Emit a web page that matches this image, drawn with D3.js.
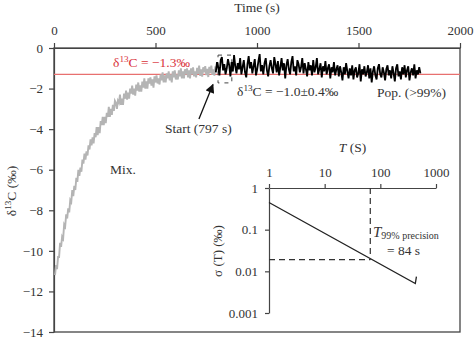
<!DOCTYPE html>
<html>
<head>
<meta charset="utf-8">
<script src="https://cdn.jsdelivr.net/npm/d3@7"></script>
<style>
  body { margin: 0; background: #fff; }
  svg text { font-family: "Liberation Serif", "Times New Roman", serif; fill: #333; }
</style>
</head>
<body>
<div id="chart"></div>
<script>
// main axes
var timeTicks = [0, 500, 1000, 1500, 2000];
var deltaTicks = [0, -2, -4, -6, -8, -10, -12, -14];

// mixing phase (gray trace), one reading every 5 s starting at t = 5 s
var mixStart = 5, mixStep = 5;
var mixValues = [
  -11.2, -10.7, -10.9, -10.3, -10.3, -9.6, -9.8, -9.3, -9.4, -8.7,
  -8.8, -8.2, -8.4, -7.9, -8.1, -7.5, -7.6, -7.0, -7.3, -6.8,
  -7.0, -6.4, -6.6, -6.0, -6.3, -5.9, -6.1, -5.5, -5.7, -5.2,
  -5.5, -5.1, -5.3, -4.8, -5.0, -4.5, -4.8, -4.4, -4.7, -4.2,
  -4.4, -3.9, -4.3, -3.9, -4.2, -3.6, -3.8, -3.4, -3.8, -3.4,
  -3.7, -3.2, -3.4, -2.9, -3.4, -3.0, -3.3, -2.8, -3.1, -2.6,
  -2.7, -3.0, -2.6, -2.7, -2.3, -2.8, -2.5, -2.8, -2.25, -2.5,
  -2.1, -2.55, -2.2, -2.5, -2.0, -2.25, -1.85, -2.3, -2.0, -2.35,
  -1.8, -2.1, -1.7, -2.15, -1.85, -2.15, -1.65, -1.95, -1.5, -2.0,
  -1.65, -2.0, -1.5, -1.75, -1.45, -1.85, -1.55, -1.95, -1.4, -1.7,
  -1.35, -1.75, -1.5, -1.8, -1.3, -1.6, -1.2, -1.7, -1.35, -1.7,
  -1.25, -1.5, -1.15, -1.6, -1.3, -1.7, -1.15, -1.45, -1.1, -1.55,
  -1.3, -1.55, -1.1, -1.4, -1.0, -1.5, -1.15, -1.5, -1.05, -1.3,
  -1.0, -1.45, -1.1, -1.5, -1.0, -1.3, -0.95, -1.4, -1.15, -1.45,
  -0.98, -1.28, -0.87, -1.37, -1.06, -1.41, -0.95, -1.2, -0.89, -1.34,
  -1.03, -1.43, -0.93, -1.22, -0.87, -1.32, -1.06, -1.36, -0.91
];

// population phase (black trace), one reading every 6 s starting at t = 797 s
var popStart = 797, popStep = 6;
var popValues = [
  -1.2, -0.7, -0.95, -1.35, -0.6, -0.45, -1.1, -0.8, -1.3, -1.0,
  -0.55, -0.85, -1.4, -0.7, -1.15, -0.35, -0.9, -1.25, -0.75, -1.05,
  -0.5, -1.3, -0.95, -0.6, -1.2, -1.45, -0.8, -0.4, -1.0, -0.7,
  -1.25, -0.9, -0.55, -1.35, -1.05, -0.65, -0.3, -1.15, -0.85, -1.3,
  -0.75, -0.5, -1.1, -1.4, -0.9, -0.6, -1.0, -1.25, -0.45, -0.8,
  -1.2, -0.65, -1.35, -0.95, -0.5, -1.1, -0.75, -1.5, -0.85, -0.55,
  -1.05, -1.3, -0.7, -0.4, -1.15, -0.9, -1.35, -0.6, -0.8, -1.2,
  -0.95, -0.5, -1.25, -0.75, -1.05, -1.4,
  -0.7, -1.1, -0.85, -1.35, -0.6, -1.2, -0.95, -0.5, -1.3, -1.05,
  -0.75, -1.45, -0.9, -1.15, -0.65, -1.3, -1.0, -0.8, -1.5, -0.95,
  -1.2, -0.7, -1.35, -1.05, -0.85,
  -1.4, -0.9, -1.2, -1.6, -0.95, -1.3, -0.75, -1.15, -1.5, -1.0,
  -1.35, -0.85, -1.55, -1.1, -0.95, -1.45, -1.25, -0.8, -1.65, -1.05,
  -1.3, -0.9, -1.4, -1.2, -0.85, -1.5, -1.0, -1.7, -1.15, -0.9,
  -1.35, -1.55, -1.0, -0.8, -1.3, -1.45, -0.95, -1.2, -1.6, -1.05,
  -0.85, -1.35, -1.1, -1.5, -0.9, -1.25, -1.65, -1.0, -0.8, -1.4,
  -1.15, -1.55, -0.95, -1.3, -0.85, -1.45, -1.1, -0.9, -1.6, -1.2,
  -1.0, -1.35, -0.8, -1.5, -1.1, -1.3, -0.95, -1.25
];

var refLevel = -1.3;
var startTime = 797;

// inset: sigma(T) vs averaging time
var allanT = [1, 425, 445];
var allanSigma = [0.45, 0.0051, 0.0075];
var precisionT = 66, precisionSigma = 0.019;
var insetTTicks = [1, 10, 100, 1000];
var insetSigmaTicks = [1, 0.1, 0.01, 0.001];
var insetSigmaLabels = ["1", "0.1", "0.01", "0.001"];

var width = 474, height = 342;
var svg = d3.select("#chart").append("svg")
  .attr("width", width)
  .attr("height", height);

var x = d3.scaleLinear().domain([0, 2000]).range([54, 460]);
var y = d3.scaleLinear().domain([0, -14]).range([48, 332]);

function styleAxis(g, fs) {
  g.selectAll("path, line").attr("stroke", "#444").attr("stroke-width", 1.2);
  g.selectAll("text").attr("font-size", fs).attr("fill", "#333")
    .style("font-family", '"Liberation Serif", "Times New Roman", serif');
}

// frame
svg.append("rect")
  .attr("x", x(0)).attr("y", y(0))
  .attr("width", x(2000) - x(0)).attr("height", y(-14) - y(0))
  .attr("fill", "none").attr("stroke", "#444").attr("stroke-width", 1.3);

var gx = svg.append("g")
  .attr("transform", "translate(0," + y(0) + ")")
  .call(d3.axisTop(x).tickValues(timeTicks).tickFormat(d3.format("d"))
    .tickSize(5).tickSizeOuter(0).tickPadding(8));
styleAxis(gx, 13);

var gy = svg.append("g")
  .attr("transform", "translate(" + x(0) + ",0)")
  .call(d3.axisLeft(y).tickValues(deltaTicks).tickSize(5).tickSizeOuter(0).tickPadding(6)
    .tickFormat(function(d) { return d === 0 ? "0" : "\u2212" + Math.abs(d); }));
styleAxis(gy, 13);

svg.append("text")
  .attr("x", (x(0) + x(2000)) / 2).attr("y", 12)
  .attr("text-anchor", "middle").attr("font-size", 13.5)
  .text("Time (s)");

// delta label helper: δ + superscript 13 + rest
function deltaText(sel, rest, fs) {
  sel.append("tspan").text("\u03b4");
  sel.append("tspan").attr("font-size", fs * 0.68).attr("dy", -fs * 0.38).text("13");
  sel.append("tspan").attr("dy", fs * 0.38).text(rest);
}

var ylab = svg.append("text")
  .attr("transform", "translate(16,191) rotate(-90)")
  .attr("text-anchor", "middle").attr("font-size", 13.5);
deltaText(ylab, "C (\u2030)", 13.5);

// reference level
svg.append("line")
  .attr("x1", x(0)).attr("x2", x(2000))
  .attr("y1", y(refLevel)).attr("y2", y(refLevel))
  .attr("stroke", "#e8706f").attr("stroke-width", 1.2);

var refLab = svg.append("text")
  .attr("x", 113).attr("y", 67).attr("font-size", 13.5)
  .style("fill", "#d9323a");
deltaText(refLab, "C = \u22121.3\u2030", 13.5);

// dashed bracket around start
svg.append("rect")
  .attr("x", x(808)).attr("y", y(-0.35))
  .attr("width", x(876) - x(808)).attr("height", y(-1.72) - y(-0.35))
  .attr("fill", "none").attr("stroke", "#444").attr("stroke-width", 1)
  .attr("stroke-dasharray", "4,5");

var line = d3.line()
  .x(function(d) { return x(d.t); })
  .y(function(d) { return y(d.v); });

var mixData = mixValues.map(function(v, i) { return {t: mixStart + i * mixStep, v: v}; });
var popData = popValues.map(function(v, i) { return {t: popStart + i * popStep, v: v}; });

svg.append("path")
  .datum(mixData)
  .attr("fill", "none")
  .attr("stroke", "#b4b4b4")
  .attr("stroke-width", 1.9)
  .attr("d", line);

svg.append("path")
  .datum(popData)
  .attr("fill", "none")
  .attr("stroke", "#000")
  .attr("stroke-width", 1.8)
  .attr("d", line);

// arrow to start
svg.append("defs").append("marker")
  .attr("id", "arr").attr("viewBox", "0 0 10 10")
  .attr("refX", 9).attr("refY", 5)
  .attr("markerWidth", 10).attr("markerHeight", 9)
  .attr("markerUnits", "userSpaceOnUse")
  .attr("orient", "auto")
  .append("path").attr("d", "M0,0 L10,5 L0,10 Z").attr("fill", "#111");

svg.append("line")
  .attr("x1", x(714)).attr("y1", y(-3.5))
  .attr("x2", x(783)).attr("y2", y(-1.8))
  .attr("stroke", "#111").attr("stroke-width", 1.3)
  .attr("marker-end", "url(#arr)");

svg.append("text").attr("x", 165).attr("y", 133).attr("font-size", 13.5)
  .text("Start (" + startTime + " s)");

var popLab = svg.append("text").attr("x", 237).attr("y", 96).attr("font-size", 13.5);
deltaText(popLab, "C = \u22121.0\u00b10.4\u2030", 13.5);

svg.append("text").attr("x", 377).attr("y", 97).attr("font-size", 13.5)
  .text("Pop. (>99%)");

svg.append("text").attr("x", 110).attr("y", 174).attr("font-size", 13.5)
  .text("Mix.");

// ---- inset ----
var ix = d3.scaleLog().domain([1, 1000]).range([269, 436]);
var iy = d3.scaleLog().domain([0.001, 1]).range([313, 188]);

var gix = svg.append("g")
  .attr("transform", "translate(0," + iy(1) + ")")
  .call(d3.axisTop(ix).tickValues(insetTTicks).tickFormat(d3.format("d"))
    .tickSize(4).tickSizeOuter(0).tickPadding(7));
styleAxis(gix, 13);

var giy = svg.append("g")
  .attr("transform", "translate(" + ix(1) + ",0)")
  .call(d3.axisLeft(iy).tickValues(insetSigmaTicks)
    .tickFormat(function(d, i) { return insetSigmaLabels[i]; })
    .tickSize(4).tickSizeOuter(0).tickPadding(7));
styleAxis(giy, 13);

var tlab = svg.append("text")
  .attr("x", (ix(1) + ix(1000)) / 2).attr("y", 152)
  .attr("text-anchor", "middle").attr("font-size", 13.5);
tlab.append("tspan").attr("font-style", "italic").text("T");
tlab.append("tspan").text(" (S)");

svg.append("text")
  .attr("transform", "translate(222,251) rotate(-90)")
  .attr("text-anchor", "middle").attr("font-size", 13)
  .text("\u03c3 (T) (\u2030)");

svg.append("path")
  .datum(allanT.map(function(t, i) { return {t: t, s: allanSigma[i]}; }))
  .attr("fill", "none").attr("stroke", "#222").attr("stroke-width", 1.3)
  .attr("d", d3.line().x(function(d) { return ix(d.t); }).y(function(d) { return iy(d.s); }));

svg.append("line")
  .attr("x1", ix(precisionT)).attr("x2", ix(precisionT))
  .attr("y1", iy(1)).attr("y2", iy(precisionSigma))
  .attr("stroke", "#333").attr("stroke-width", 1.2).attr("stroke-dasharray", "6,4");
svg.append("line")
  .attr("x1", ix(1)).attr("x2", ix(precisionT))
  .attr("y1", iy(precisionSigma)).attr("y2", iy(precisionSigma))
  .attr("stroke", "#333").attr("stroke-width", 1.2).attr("stroke-dasharray", "6,4");

var plab = svg.append("text").attr("x", 373).attr("y", 237);
plab.append("tspan").attr("font-style", "italic").attr("font-size", 15).text("T");
plab.append("tspan").attr("font-size", 10).attr("dy", 2).text("99% precision");

svg.append("text").attr("x", 387).attr("y", 255).attr("font-size", 13.5)
  .text("= 84 s");
</script>
</body>
</html>
